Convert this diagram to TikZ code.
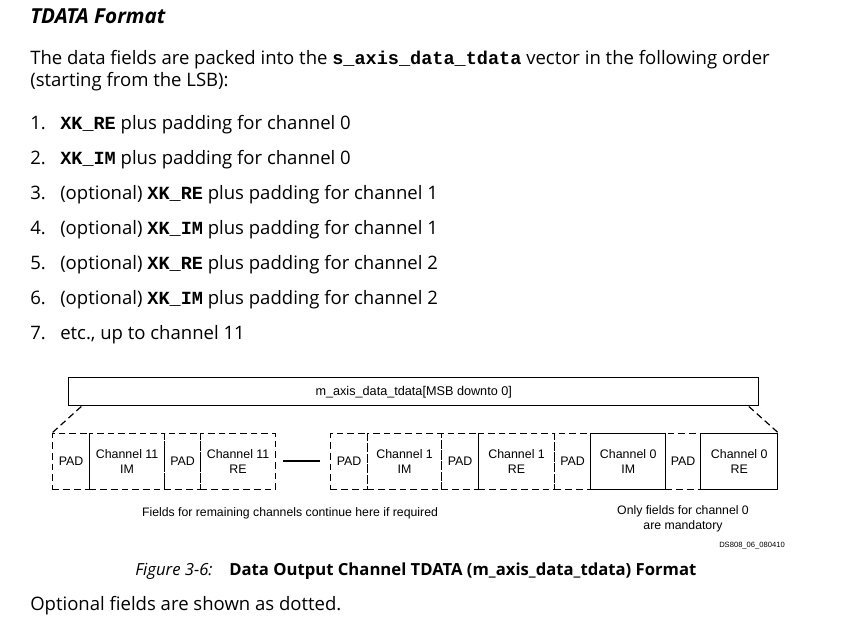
\documentclass[tikz,border=0pt]{standalone}
\usepackage{fontspec}
\setmainfont{Open Sans}
\newfontfamily\dsans{Liberation Sans}
\newfontfamily\cmono{Liberation Mono}
\newcommand{\cd}[1]{{\cmono\bfseries #1}}
\newcommand{\itm}[1]{\makebox[22.5pt][l]{#1}}
\begin{document}
\begin{tikzpicture}[x=0.75pt,y=-0.75pt,
  txt/.style={anchor=west,inner sep=0,font=\fontsize{13.9}{16}\selectfont},
  cell/.style={draw,dashed,line width=0.9pt,dash pattern=on 5pt off 3pt,minimum height=42pt,inner sep=0,font=\dsans\fontsize{9.3}{11}\selectfont,align=center,anchor=north west},
  solidcell/.style={cell,solid,line width=1.1pt},
  note/.style={font=\dsans\fontsize{9.2}{10.8}\selectfont,align=center,inner sep=0}]
\useasboundingbox (0,0) rectangle (850,621);
\node[anchor=west,inner sep=0,font=\fontsize{15.5}{17}\selectfont\bfseries\itshape] (h) at (30,16) {TDATA Format};
\node[txt] (p1) at (30,60) {The data fields are packed into the \cd{s\_axis\_data\_tdata} vector in the following order};
\node[txt] (p2) at (30,82) {(starting from the LSB):};
\node[txt] (l1) at (30,125) {\itm{1.}\cd{XK\_RE} plus padding for channel 0};
\node[txt] (l2) at (30,160) {\itm{2.}\cd{XK\_IM} plus padding for channel 0};
\node[txt] (l3) at (30,195) {\itm{3.}(optional) \cd{XK\_RE} plus padding for channel 1};
\node[txt] (l4) at (30,230) {\itm{4.}(optional) \cd{XK\_IM} plus padding for channel 1};
\node[txt] (l5) at (30,265) {\itm{5.}(optional) \cd{XK\_RE} plus padding for channel 2};
\node[txt] (l6) at (30,300) {\itm{6.}(optional) \cd{XK\_IM} plus padding for channel 2};
\node[txt] (l7) at (30,335) {\itm{7.}etc., up to channel 11};
\node[draw,line width=1.1pt,minimum width=517.5pt,minimum height=21pt,inner sep=0,anchor=north west,font=\dsans\fontsize{9.5}{11}\selectfont] (bus) at (68,377) {m\_axis\_data\_tdata[MSB downto 0]};
% left group
\node[cell,minimum width=27.75pt] (a1) at (52,433) {PAD};
\node[cell,minimum width=56.25pt] (a2) at (89,433) {Channel 11\\IM};
\node[cell,minimum width=27pt] (a3) at (164,433) {PAD};
\node[cell,minimum width=56.25pt] (a4) at (200,433) {Channel 11\\RE};
\coordinate (d1) at (283,461);
\coordinate (d2) at (320,461);
\draw[line width=1.5pt] (d1) -- (d2);
% right group
\node[cell,minimum width=27.75pt] (b1) at (330,433) {PAD};
\node[cell,minimum width=55.5pt] (b2) at (367,433) {Channel 1\\IM};
\node[cell,minimum width=27.75pt] (b3) at (441,433) {PAD};
\node[cell,minimum width=57pt] (b4) at (478,433) {Channel 1\\RE};
\node[cell,minimum width=27pt] (b5) at (554,433) {PAD};
\node[cell,minimum width=26.25pt] (b7) at (665,433) {PAD};
\node[solidcell,minimum width=56.25pt] (b6) at (590,433) {Channel 0\\IM};
\node[solidcell,minimum width=57.75pt] (b8) at (700,433) {Channel 0\\RE};
\draw[dashed,line width=0.9pt,dash pattern=on 5pt off 3pt] ([xshift=10pt]bus.south west) -- (a1.north west);
\draw[dashed,line width=0.9pt,dash pattern=on 5pt off 3pt] ([xshift=-8pt]bus.south east) -- (b8.north east);
\node[note] (n1) at (290,513) {Fields for remaining channels continue here if required};
\node[note] (n2) at (683,519) {Only fields for channel 0\\are mandatory};
\node[note,font=\dsans\fontsize{5.7}{6}\selectfont] (n3) at (752,546) {DS808\_06\_080410};
\node[anchor=west,inner sep=0,font=\fontsize{12.5}{14}\selectfont] (cap) at (135,571) {\textit{Figure 3-6:}\quad\textbf{Data Output Channel TDATA (m\_axis\_data\_tdata) Format}};
\node[txt] (last) at (30,606) {Optional fields are shown as dotted.};
\end{tikzpicture}
\end{document}
